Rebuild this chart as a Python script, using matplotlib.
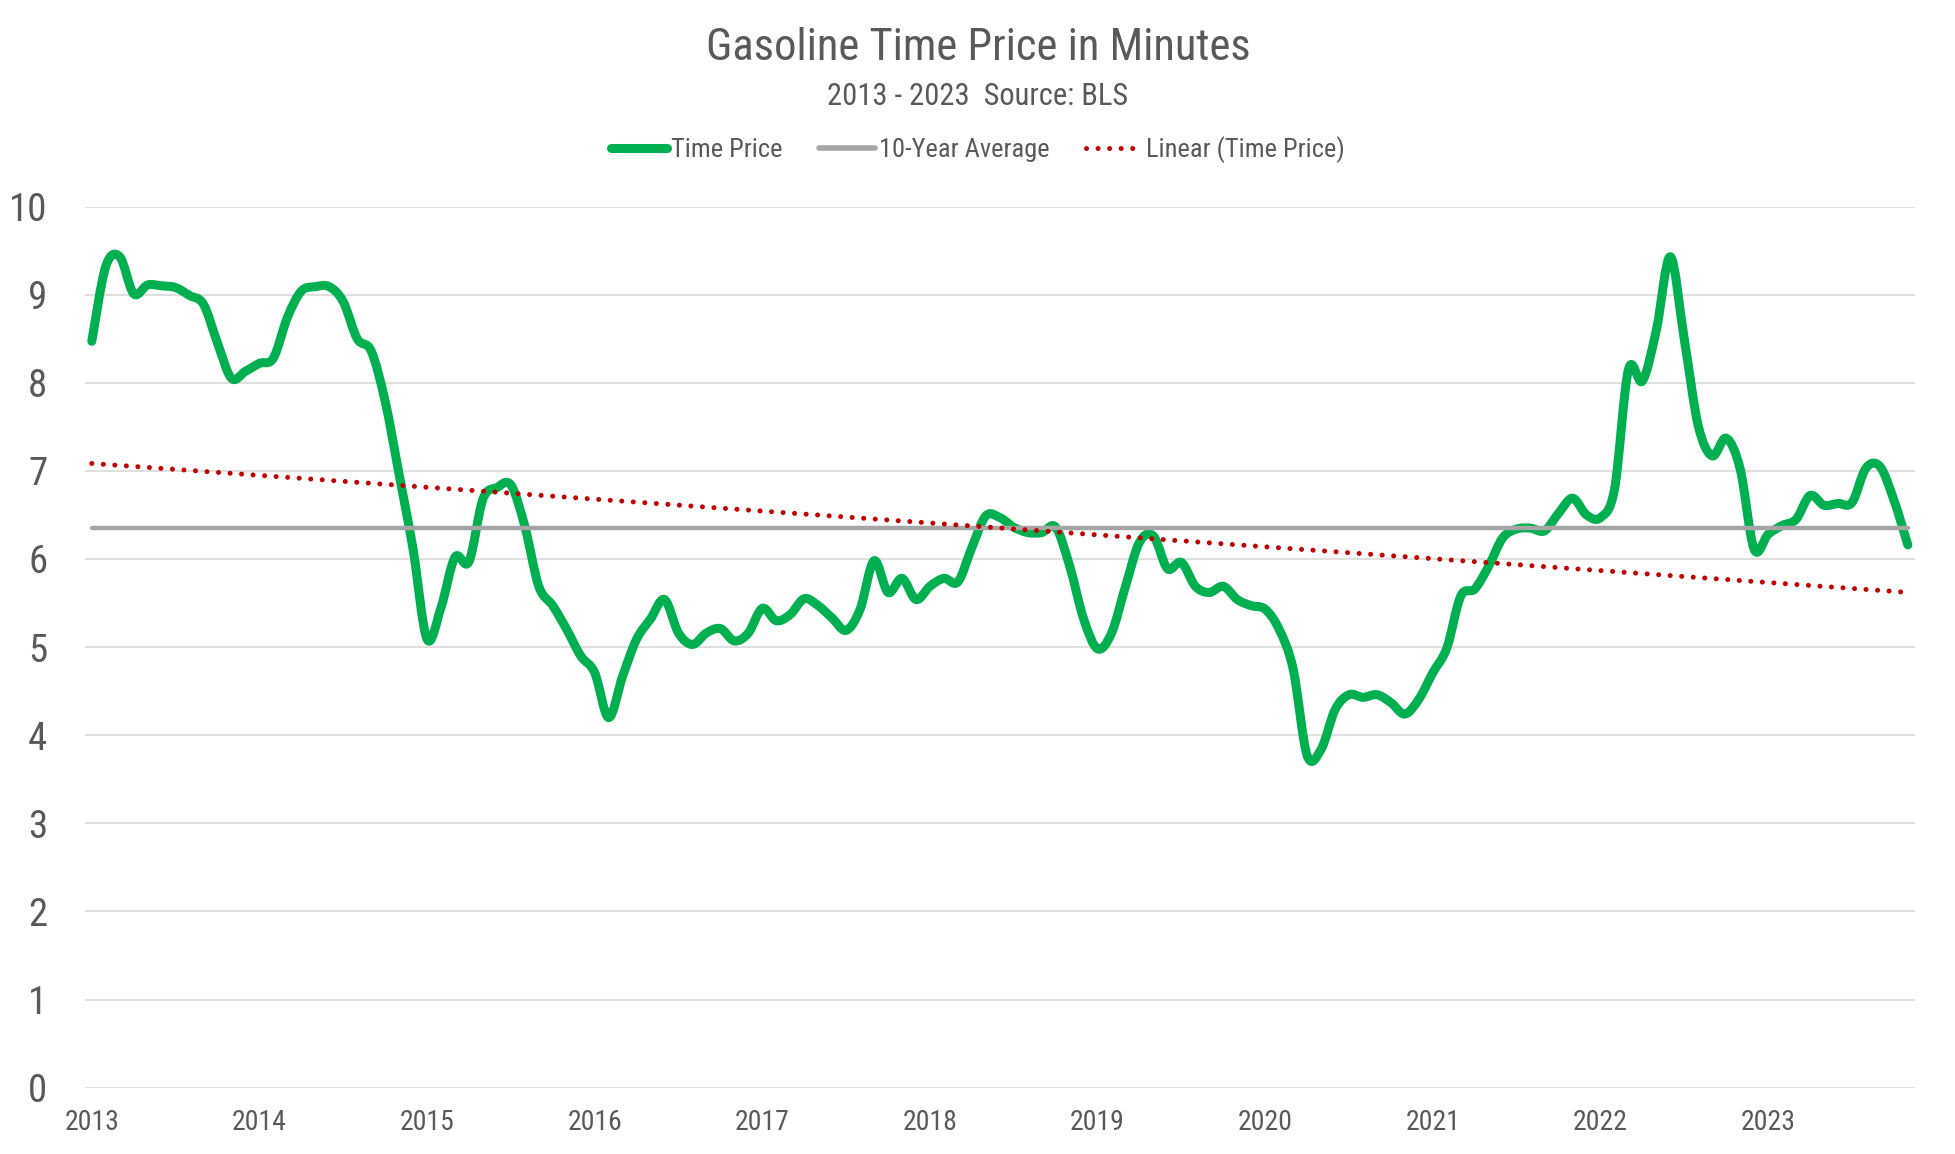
import matplotlib
matplotlib.use('Agg')
import matplotlib.pyplot as plt
import numpy as np
from matplotlib.path import Path
from matplotlib.patches import PathPatch
from matplotlib.lines import Line2D

plt.rcParams['font.family'] = ['Roboto Condensed', 'DejaVu Sans Condensed', 'Liberation Sans']

# monthly time price (minutes), Jan 2013 .. Nov 2023
time_price = [
    8.47, 9.32, 9.43, 9.01, 9.11, 9.10, 9.08, 8.99, 8.89, 8.45, 8.05, 8.13,
    8.22, 8.28, 8.74, 9.04, 9.09, 9.09, 8.92, 8.50, 8.36, 7.79, 6.96, 6.11,
    5.09, 5.45, 6.02, 5.97, 6.68, 6.81, 6.84, 6.37, 5.69, 5.47, 5.20, 4.90,
    4.71, 4.20, 4.67, 5.09, 5.32, 5.54, 5.16, 5.03, 5.16, 5.21, 5.07, 5.16,
    5.44, 5.30, 5.37, 5.55, 5.47, 5.33, 5.19, 5.43, 5.98, 5.62, 5.78, 5.54,
    5.69, 5.78, 5.74, 6.13, 6.49, 6.47, 6.36, 6.30, 6.30, 6.36, 5.92, 5.32,
    4.98, 5.16, 5.69, 6.19, 6.26, 5.89, 5.96, 5.69, 5.62, 5.69, 5.54, 5.47,
    5.43, 5.20, 4.75, 3.77, 3.84, 4.29, 4.46, 4.43, 4.46, 4.37, 4.24, 4.41,
    4.71, 4.99, 5.58, 5.66, 5.92, 6.24, 6.34, 6.35, 6.32, 6.52, 6.69, 6.50,
    6.47, 6.79, 8.15, 8.02, 8.60, 9.43, 8.49, 7.51, 7.17, 7.37, 7.02, 6.11,
    6.28, 6.38, 6.45, 6.72, 6.61, 6.63, 6.64, 7.03, 7.05, 6.67, 6.16,
]
year_labels = [str(yr) for yr in range(2013, 2024)]
series_names = ['Time Price', '10-Year Average', 'Linear (Time Price)']

GREEN = '#00B050'
GRAY = '#A5A5A5'
RED = '#C00000'
TEXT = '#595959'

x = np.arange(len(time_price))
y = np.array(time_price)
avg = np.full_like(y, y.mean())
slope, intercept = np.polyfit(x, y, 1)
trend = slope * x + intercept


def smooth_path(xs, ys):
    # excel-like smoothed line: catmull-rom segments as cubic beziers
    pts = np.column_stack([xs, ys]).astype(float)
    ext = np.vstack([pts[0], pts, pts[-1]])
    verts = [pts[0]]
    codes = [Path.MOVETO]
    for k in range(len(pts) - 1):
        p0, p1, p2, p3 = ext[k], ext[k + 1], ext[k + 2], ext[k + 3]
        verts += [p1 + (p2 - p0) / 6, p2 - (p3 - p1) / 6, p2]
        codes += [Path.CURVE4] * 3
    return Path(verts, codes)


fig = plt.figure(figsize=(19.56, 11.54), dpi=100)
ax = fig.add_axes([0.04335, 0.05745, 0.9356, 0.7636])

ax.add_patch(PathPatch(smooth_path(x, y), facecolor='none', edgecolor=GREEN,
                       lw=6.5, capstyle='round', joinstyle='round', zorder=3))
ax.plot(x, avg, color=GRAY, lw=3.2, solid_capstyle='round', zorder=4)
ax.plot(x, trend, color=RED, lw=3.6, linestyle=(0, (0.01, 2.3)),
        dash_capstyle='round', zorder=5)

ax.set_xlim(-0.5, len(x) - 0.5)
ax.set_ylim(0, 10)
ax.set_yticks(range(11))
ax.set_xticks(x[::12])
ax.set_xticklabels(year_labels)
ax.yaxis.grid(True, color='#D9D9D9', lw=1.2, zorder=0)
ax.set_axisbelow(True)
for s in ax.spines.values():
    s.set_visible(False)
ax.tick_params(axis='x', length=0, pad=15, labelsize=20, labelcolor=TEXT)
ax.tick_params(axis='y', length=0, pad=27, labelsize=28, labelcolor=TEXT)

fig.text(0.5, 1 - 60 / 1154, 'Gasoline Time Price in Minutes', ha='center',
         va='baseline', fontsize=32, color=TEXT)
fig.text(0.5, 1 - 105 / 1154, '2013 - 2023  Source: BLS', ha='center',
         va='baseline', fontsize=22, color=TEXT)

handles = [
    Line2D([], [], color=GREEN, lw=6.5, solid_capstyle='round'),
    Line2D([], [], color=GRAY, lw=4, solid_capstyle='round'),
    Line2D([], [], color=RED, lw=3.6, linestyle=(0, (0.01, 2.3)), dash_capstyle='round'),
]
fig.legend(handles, series_names, loc='center', bbox_to_anchor=(0.5, 1 - 150 / 1154),
           ncol=3, frameon=False, fontsize=19, labelcolor=TEXT, handlelength=2.1,
           handletextpad=0.15, columnspacing=1.4)

fig.savefig('out.png', dpi=100)
